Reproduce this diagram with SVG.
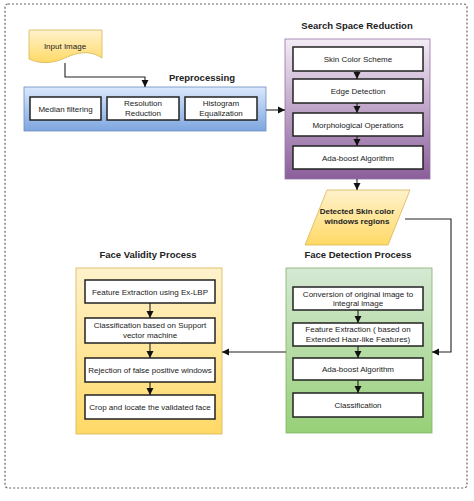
<svg xmlns="http://www.w3.org/2000/svg" width="474" height="501" viewBox="0 0 474 501">
<defs>
<linearGradient id="gBlue" x1="0" y1="0" x2="0" y2="1"><stop offset="0" stop-color="#dae8fc"/><stop offset="1" stop-color="#7ea6e0"/></linearGradient>
<linearGradient id="gPurple" x1="0" y1="0" x2="0" y2="1"><stop offset="0" stop-color="#f3ecf5"/><stop offset="1" stop-color="#8b5e9b"/></linearGradient>
<linearGradient id="gYellow" x1="0" y1="0" x2="0" y2="1"><stop offset="0" stop-color="#fff2cc"/><stop offset="1" stop-color="#ffd966"/></linearGradient>
<linearGradient id="gGreen" x1="0" y1="0" x2="0" y2="1"><stop offset="0" stop-color="#d5e8d4"/><stop offset="1" stop-color="#97d077"/></linearGradient>
<marker id="arr" markerWidth="8" markerHeight="8" refX="7" refY="4" orient="auto" markerUnits="userSpaceOnUse"><path d="M0,0.5 L7,4 L0,7.5 Z" fill="#111"/></marker>
</defs>
<style>
text{font-family:"Liberation Sans",Arial,sans-serif;fill:#222;text-anchor:middle}
.t{font-size:8px}
.h{font-size:9.5px;font-weight:bold}
.b{fill:#fff;stroke:#222;stroke-width:1.5}
.c{fill:none;stroke:#222;stroke-width:1.1}
</style>
<rect x="5" y="4" width="462" height="484" rx="3" fill="none" stroke="#666" stroke-width="1.2" stroke-dasharray="2,2"/>

<g id="input-image">
<path d="M29,30 H102 V58 C90,50 78,52 65,58 C52,64 40,64 29,59 Z" fill="url(#gYellow)" stroke="#d6b656" stroke-width="0.8"/>
<text class="t" x="65" y="49">Input Image</text>
</g>

<g id="preprocessing">
<text class="h" x="202" y="81">Preprocessing</text>
<rect x="24" y="87" width="242" height="44" fill="url(#gBlue)" stroke="#6c8ebf" stroke-width="0.8"/>
<rect class="b" x="30" y="97" width="71" height="23"/>
<text class="t" x="65.5" y="111.5">Median filtering</text>
<rect class="b" x="107" y="97" width="72" height="23"/>
<text class="t" x="143" y="106">Resolution</text>
<text class="t" x="143" y="115.5">Reduction</text>
<rect class="b" x="185" y="97" width="72" height="23"/>
<text class="t" x="221" y="106">Histogram</text>
<text class="t" x="221" y="115.5">Equalization</text>
</g>

<g id="search-space-reduction">
<text class="h" x="357" y="29">Search Space Reduction</text>
<rect x="285" y="39" width="145" height="140" fill="url(#gPurple)" stroke="#9673a6" stroke-width="0.8"/>
<rect class="b" x="293" y="47" width="130" height="24"/>
<text class="t" x="358" y="62">Skin Color Scheme</text>
<rect class="b" x="293" y="79" width="130" height="24"/>
<text class="t" x="358" y="94">Edge Detection</text>
<rect class="b" x="293" y="113" width="130" height="23"/>
<text class="t" x="358" y="127.5">Morphological Operations</text>
<rect class="b" x="293" y="146" width="130" height="23"/>
<text class="t" x="358" y="160.5">Ada-boost Algorithm</text>
</g>

<g id="detected-skin">
<path d="M327,190 H410 L388,245 H305 Z" fill="url(#gYellow)" stroke="#d6b656" stroke-width="0.8"/>
<text class="t" x="357" y="214" style="font-weight:bold">Detected Skin color</text>
<text class="t" x="357" y="223.5" style="font-weight:bold">windows regions</text>
</g>

<g id="face-detection">
<text class="h" x="358" y="258">Face Detection Process</text>
<rect x="286" y="268" width="146" height="165" fill="url(#gGreen)" stroke="#82b366" stroke-width="0.8"/>
<rect class="b" x="293" y="287" width="130" height="23"/>
<text class="t" x="358" y="296.5">Conversion of original image to</text>
<text class="t" x="358" y="306">integral image</text>
<rect class="b" x="293" y="323" width="130" height="23"/>
<text class="t" x="358" y="332">Feature Extraction ( based on</text>
<text class="t" x="358" y="341.5">Extended Haar-like Features)</text>
<rect class="b" x="293" y="358" width="130" height="22"/>
<text class="t" x="358" y="372">Ada-boost Algorithm</text>
<rect class="b" x="293" y="393" width="130" height="24"/>
<text class="t" x="358" y="408">Classification</text>
</g>

<g id="face-validity">
<text class="h" x="148" y="258">Face Validity Process</text>
<rect x="76" y="268" width="146" height="166" fill="url(#gYellow)" stroke="#d6b656" stroke-width="0.8"/>
<rect class="b" x="85" y="280" width="130" height="23"/>
<text class="t" x="150" y="294.5">Feature Extraction using Ex-LBP</text>
<rect class="b" x="85" y="318" width="130" height="25"/>
<text class="t" x="150" y="328">Classification based on Support</text>
<text class="t" x="150" y="337.5">vector machine</text>
<rect class="b" x="85" y="358" width="130" height="24"/>
<text class="t" x="150" y="373">Rejection of false positive windows</text>
<rect class="b" x="85" y="395" width="130" height="24"/>
<text class="t" x="150" y="410">Crop and locate the validated face</text>
</g>

<g id="connectors">
<path class="c" d="M65,63 V77 H145 V87" marker-end="url(#arr)"/>
<path class="c" d="M266,110 H285" marker-end="url(#arr)"/>
<path class="c" d="M357,71 V79" marker-end="url(#arr)"/>
<path class="c" d="M357,103 V113" marker-end="url(#arr)"/>
<path class="c" d="M357,136 V146" marker-end="url(#arr)"/>
<path class="c" d="M357,179 V190" marker-end="url(#arr)"/>
<path class="c" d="M405,219 H451 V352 H432" marker-end="url(#arr)"/>
<path class="c" d="M358,310 V323" marker-end="url(#arr)"/>
<path class="c" d="M358,346 V358" marker-end="url(#arr)"/>
<path class="c" d="M358,380 V393" marker-end="url(#arr)"/>
<path class="c" d="M286,352 H222" marker-end="url(#arr)"/>
<path class="c" d="M150,303 V318" marker-end="url(#arr)"/>
<path class="c" d="M150,343 V358" marker-end="url(#arr)"/>
<path class="c" d="M150,382 V395" marker-end="url(#arr)"/>
</g>
</svg>
